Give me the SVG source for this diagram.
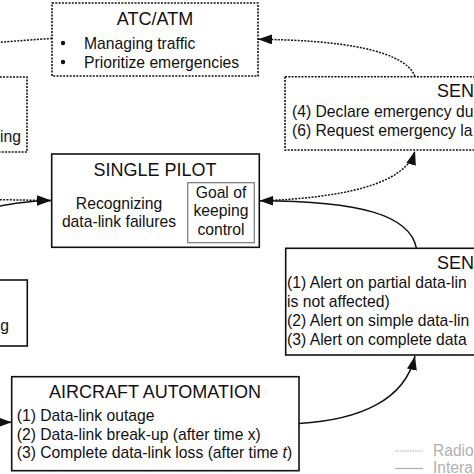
<svg xmlns="http://www.w3.org/2000/svg" width="474" height="474" viewBox="0 0 474 474">
<defs>
<style>
text{font-family:"Liberation Sans",Arial,Helvetica,sans-serif;fill:#111}
.t{font-size:18px}
.b{font-size:15.7px}
.m{text-anchor:middle}
.solid{fill:#fff;stroke:#111;stroke-width:1.6}
.dot{fill:#fff;stroke:#111;stroke-width:1.6;stroke-dasharray:2 1.3}
.cs{fill:none;stroke:#111;stroke-width:1.5}
.cd{fill:none;stroke:#111;stroke-width:1.5;stroke-dasharray:2 1.3}
.leg{font-size:15.6px;fill:#b0b0b0}
</style>
<marker id="ah" viewBox="0 0 14 10" refX="14" refY="5" markerWidth="14" markerHeight="10" orient="auto" markerUnits="userSpaceOnUse"><path d="M0,0 L14,5 L0,10 z" fill="#111"/></marker>
</defs>
<rect width="474" height="474" fill="#fff"/>

<g id="connectors">
<path class="cd" d="M52,38.5 C35,39.5 15,41 -10,43"/>
<path class="cd" d="M415,76.5 C405,50 340,40 258,39.3" marker-end="url(#ah)"/>
<path class="cd" d="M-10,199.5 L51,200.5" marker-end="url(#ah)"/>
<path class="cs" d="M-10,208 C10,204 25,201 51,200.5" marker-end="url(#ah)"/>
<path class="cd" d="M262,200.7 C340,198 405,185 415,151" marker-end="url(#ah)"/>
<path class="cs" d="M416.5,248.3 C410,215 360,201 259.5,200.7" marker-end="url(#ah)"/>
<path class="cs" d="M-20,422.3 L11.7,422.3" marker-end="url(#ah)"/>
<path class="cs" d="M299,423.5 C360,420 405,400 415,356" marker-end="url(#ah)"/>
</g>

<g id="atc">
<rect class="dot" x="52" y="3" width="206" height="73"/>
<text class="t m" x="155" y="25">ATC/ATM</text>
<circle cx="63" cy="43" r="2.2" fill="#111"/>
<circle cx="63" cy="62" r="2.2" fill="#111"/>
<text class="b" x="84" y="48.5">Managing traffic</text>
<text class="b" x="84" y="67.5">Prioritize emergencies</text>
</g>

<g id="left-top">
<rect class="dot" x="-20" y="77" width="47" height="75"/>
<text class="b" x="21" y="141.5" text-anchor="end">ing</text>
</g>

<g id="sen-top">
<rect class="dot" x="285" y="76.7" width="200" height="73.3"/>
<text class="t" x="437" y="97">SEN</text>
<text class="b" x="292" y="116.5">(4) Declare emergency du</text>
<text class="b" x="292" y="136">(6) Request emergency la</text>
</g>

<g id="pilot">
<rect class="solid" x="51.7" y="154" width="207.6" height="93.3"/>
<text class="t m" x="155" y="176">SINGLE PILOT</text>
<text class="b m" x="119" y="209">Recognizing</text>
<text class="b m" x="119" y="226.5">data-link failures</text>
<g id="goal">
<rect x="187.7" y="182.7" width="66.6" height="60" fill="#fff" stroke="#777" stroke-width="1.2"/>
<text class="b m" x="221" y="198.3">Goal of</text>
<text class="b m" x="221" y="216">keeping</text>
<text class="b m" x="221" y="235">control</text>
</g>
</g>

<g id="sen-bottom">
<rect class="solid" x="285.7" y="248.3" width="200" height="106.7"/>
<text class="t" x="437" y="269.3">SEN</text>
<text class="b" x="287" y="288.3">(1) Alert on partial data-lin</text>
<text class="b" x="287" y="307.3">is not affected)</text>
<text class="b" x="287" y="326">(2) Alert on simple data-lin</text>
<text class="b" x="287" y="345">(3) Alert on complete data</text>
</g>

<g id="left-bottom">
<rect class="solid" x="-20" y="280" width="47.3" height="66"/>
<text class="b" x="9" y="330.5" text-anchor="end">g</text>
</g>

<g id="automation">
<rect class="solid" x="11.7" y="376.7" width="287.3" height="94"/>
<text class="t m" x="155" y="397.7">AIRCRAFT AUTOMATION</text>
<text class="b" x="16.7" y="421">(1) Data-link outage</text>
<text class="b" x="16.7" y="439.5">(2) Data-link break-up (after time x)</text>
<text class="b" x="16.7" y="458.3">(3) Complete data-link loss (after time <tspan font-style="italic">t</tspan>)</text>
</g>

<g id="legend">
<line x1="395" y1="451" x2="423" y2="451" stroke="#b0b0b0" stroke-width="1.2" stroke-dasharray="1.5 1"/>
<text class="leg" x="433" y="456">Radio</text>
<line x1="395" y1="468.5" x2="423" y2="468.5" stroke="#b0b0b0" stroke-width="1.2"/>
<text class="leg" x="433" y="472.5">Intera</text>
</g>
</svg>
